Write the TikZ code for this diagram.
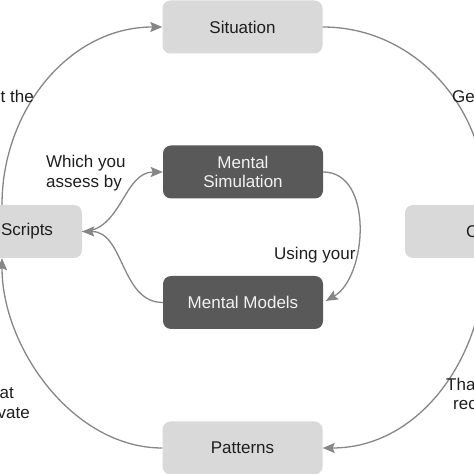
\documentclass[tikz,border=0pt]{standalone}
\usepackage{fontspec}
\setmainfont{Liberation Sans}
\usetikzlibrary{arrows.meta}
\definecolor{lightbox}{HTML}{D9D9D9}
\definecolor{darkbox}{HTML}{595959}
\definecolor{linkgray}{HTML}{868686}
\definecolor{inktext}{HTML}{1E1E1E}
\definecolor{boxtext}{HTML}{F2F2F2}
\begin{document}
\begin{tikzpicture}[x=1pt,y=1pt,
  every node/.style={font=\fontsize{17}{19.5}\selectfont},
  lightnode/.style={rectangle, rounded corners=8pt, fill=lightbox, text=inktext,
    minimum width=160pt, minimum height=53pt, inner sep=0pt},
  darknode/.style={rectangle, rounded corners=8pt, fill=darkbox, text=boxtext,
    minimum width=160pt, minimum height=53pt, inner sep=0pt, align=center},
  link/.style={draw=linkgray, line width=1.3pt,
    -{Stealth[length=12pt,width=10pt,inset=2pt]}},
  lbl/.style={text=inktext, inner sep=0pt}]
\useasboundingbox (0,0) rectangle (474,474);
\clip (0,0) rectangle (474,474);

% boxes
\node[lightnode] (sit) at (242.5,447) {Situation};
\node[darknode] (sim) at (243,302) {Mental\\Simulation};
\node[darknode] (mod) at (243,171.5) {Mental Models};
\node[lightnode] (pat) at (242.5,26) {Patterns};
\node[lightnode, text width=102pt, align=right, inner xsep=29pt] (scr) at (2,242.5) {Scripts};
\node[lightnode, text width=38pt, align=left, inner xsep=61pt] (cue) at (485,242.5) {C};

% connectors
\draw[link] (scr.north) to[out=90,in=180] (sit.west);
\draw[link] (sit.east) to[out=0,in=90] (cue.north);
\draw[link] (cue.south) to[out=-90,in=0] (pat.east);
\draw[link] (pat.west) to[out=180,in=-90,looseness=0.92] (scr.south);
\draw[link] (scr.east) to[out=0,in=180] (sim.west);
\draw[link] (mod.west) to[out=180,in=0] (scr.east);
\draw[link, shorten >=3pt] (sim.east) to[out=0,in=30] (mod.east);

% labels
\node[lbl, anchor=east] (l1) at (34,378) {t the};
\node[lbl, anchor=west] (l2) at (452,377) {Ge};
\node[lbl, anchor=west, align=left] (l3) at (46,301) {Which you\\assess by};
\node[lbl, anchor=west] (l4) at (274,219.3) {Using your};
\node[lbl, anchor=west, align=left] (l5) at (446,80) {Tha\\\hspace*{7pt}rec};
\node[lbl, anchor=east, align=right] (l6) at (30,71) {at\hspace*{16pt}\\vate};
\end{tikzpicture}
\end{document}
